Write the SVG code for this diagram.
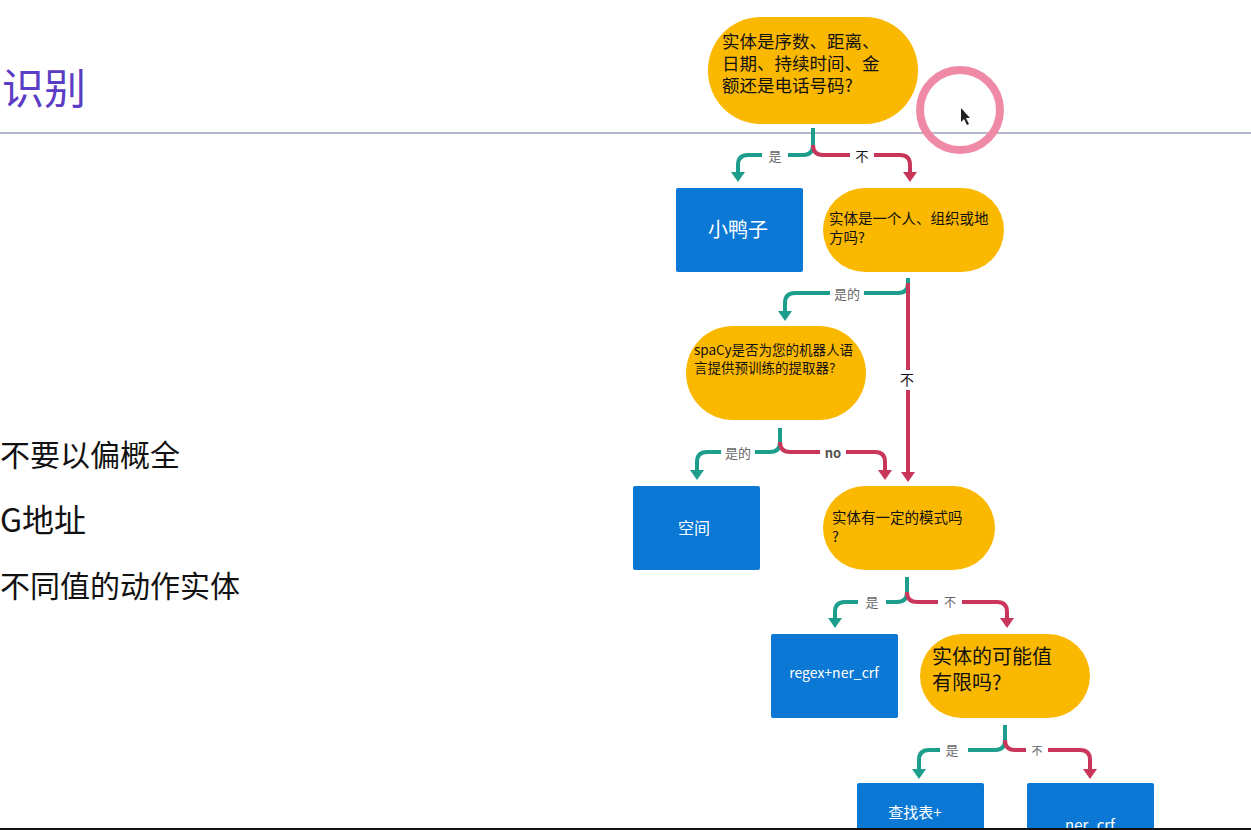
<svg xmlns="http://www.w3.org/2000/svg" width="1251" height="830" viewBox="0 0 1251 830">
<style>
.cn{font-family:"Noto Sans CJK SC","Noto Sans",sans-serif}
.pill{fill:#fbb800}
.box{fill:#0a78d4}
.q{fill:#111}
.w{fill:#fff;text-anchor:middle}
.lb{fill:#666;font-size:13px;text-anchor:middle}
.t{fill:none;stroke:#1d9e8c;stroke-width:4}
.r{fill:none;stroke:#c8365a;stroke-width:4}
</style>
<defs>
<marker id="at" viewBox="0 -7 10 14" refX="6" refY="0" markerWidth="10" markerHeight="14" orient="auto" markerUnits="userSpaceOnUse"><path d="M0,-7 L10,0 L0,7 Z" fill="#1d9e8c"/></marker>
<marker id="ar" viewBox="0 -7 10 14" refX="6" refY="0" markerWidth="10" markerHeight="14" orient="auto" markerUnits="userSpaceOnUse"><path d="M0,-7 L10,0 L0,7 Z" fill="#c8365a"/></marker>
</defs>
<rect width="1251" height="830" fill="#fff"/>
<text x="2" y="104" class="cn" font-size="42" fill="#5b3cc4">识别</text>
<line x1="0" y1="133" x2="1251" y2="133" stroke="#b4b8cc" stroke-width="2"/>
<text x="0" y="466" class="cn" font-size="30" fill="#111">不要以偏概全</text>
<text x="0" y="532" class="cn" font-size="32" fill="#111">G地址</text>
<text x="0" y="597" class="cn" font-size="30" fill="#111">不同值的动作实体</text>
<circle cx="960" cy="110" r="40" fill="none" stroke="#ee89a6" stroke-width="8"/>
<path d="M961,108 L961,122 L964,119 L967,125 L969,124 L966,118 L970,118 Z" fill="#222"/>
<g id="connectors">
<path class="t" d="M813,128 V145 Q813,155 803,155 H748 Q738,155 738,165 V178" marker-end="url(#at)"/>
<path class="r" d="M813,145 Q813,155 823,155 H900 Q910,155 910,165 V178" marker-end="url(#ar)"/>
<path class="t" d="M908,278 V283 Q908,293 898,293 H795 Q785,293 785,303 V317" marker-end="url(#at)"/>
<path class="r" d="M908,283 V478" marker-end="url(#ar)"/>
<path class="t" d="M780,428 V442 Q780,452 770,452 H707 Q697,452 697,462 V476" marker-end="url(#at)"/>
<path class="r" d="M780,442 Q780,452 790,452 H875 Q885,452 885,462 V476" marker-end="url(#ar)"/>
<path class="t" d="M907,577 V592 Q907,602 897,602 H845 Q835,602 835,612 V624" marker-end="url(#at)"/>
<path class="r" d="M907,592 Q907,602 917,602 H997 Q1007,602 1007,612 V624" marker-end="url(#ar)"/>
<path class="t" d="M1005,725 V740 Q1005,750 995,750 H929 Q919,750 919,760 V775" marker-end="url(#at)"/>
<path class="r" d="M1005,740 Q1005,750 1015,750 H1080 Q1090,750 1090,760 V775" marker-end="url(#ar)"/>
<g class="cn">
<rect x="762" y="146" width="26" height="18" fill="#fff"/><text x="775" y="161" class="lb">是</text>
<rect x="850" y="146" width="24" height="18" fill="#fff"/><text x="862" y="161" class="lb" style="fill:#111">不</text>
<rect x="830" y="284" width="34" height="18" fill="#fff"/><text x="847" y="299" class="lb">是的</text>
<rect x="897" y="370" width="20" height="20" fill="#fff"/><text x="907" y="385" class="lb" style="fill:#111;font-size:14px">不</text>
<rect x="721" y="443" width="34" height="18" fill="#fff"/><text x="738" y="458" class="lb">是的</text>
<rect x="820" y="443" width="26" height="18" fill="#fff"/><text x="833" y="458" class="lb" style="fill:#555;font-weight:bold">no</text>
<rect x="858" y="593" width="28" height="18" fill="#fff"/><text x="872" y="607" class="lb">是</text>
<rect x="938" y="593" width="24" height="18" fill="#fff"/><text x="950" y="607" class="lb" style="font-size:12px">不</text>
<rect x="940" y="741" width="28" height="18" fill="#fff"/><text x="952" y="755" class="lb">是</text>
<rect x="1026" y="741" width="22" height="18" fill="#fff"/><text x="1037" y="755" class="lb" style="font-size:11px">不</text>
</g>
</g>
<g id="n1"><rect class="pill" x="708" y="17" width="210" height="107" rx="53"/><text class="cn q" font-size="17.5"><tspan x="722" y="48">实体是序数、距离、</tspan><tspan x="722" y="70">日期、持续时间、金</tspan><tspan x="722" y="92">额还是电话号码?</tspan></text></g>
<g id="n2"><rect class="box" x="676" y="188" width="127" height="84" rx="2"/><text class="cn w" x="738" y="237" font-size="20">小鸭子</text></g>
<g id="n3"><rect class="pill" x="823" y="188" width="181" height="84" rx="42"/><text class="cn q" font-size="14.5"><tspan x="829" y="224">实体是一个人、组织或地</tspan><tspan x="829" y="243">方吗?</tspan></text></g>
<g id="n4"><rect class="pill" x="686" y="326" width="180" height="94" rx="47"/><text class="cn q" font-size="13.5"><tspan x="694" y="355">spaCy是否为您的机器人语</tspan><tspan x="694" y="373">言提供预训练的提取器?</tspan></text></g>
<g id="n5"><rect class="box" x="633" y="486" width="127" height="84" rx="2"/><text class="cn w" x="694" y="534" font-size="16">空间</text></g>
<g id="n6"><rect class="pill" x="823" y="486" width="172" height="84" rx="42"/><text class="cn q" font-size="14.5"><tspan x="832" y="523">实体有一定的模式吗</tspan><tspan x="832" y="542">?</tspan></text></g>
<g id="n7"><rect class="box" x="771" y="634" width="127" height="84" rx="2"/><text class="cn w" x="834" y="678" font-size="14">regex+ner_crf</text></g>
<g id="n8"><rect class="pill" x="920" y="634" width="170" height="84" rx="42"/><text class="cn q" font-size="20"><tspan x="932" y="664">实体的可能值</tspan><tspan x="932" y="690">有限吗?</tspan></text></g>
<g id="n9"><rect class="box" x="857" y="783" width="127" height="60" rx="2"/><text class="cn w" x="915" y="818" font-size="15">查找表+</text></g>
<g id="n10"><rect class="box" x="1027" y="783" width="127" height="60" rx="2"/><text class="cn w" x="1090" y="831" font-size="15">ner_crf</text></g>
<line x1="0" y1="829" x2="1251" y2="829" stroke="#111" stroke-width="2"/>
</svg>
